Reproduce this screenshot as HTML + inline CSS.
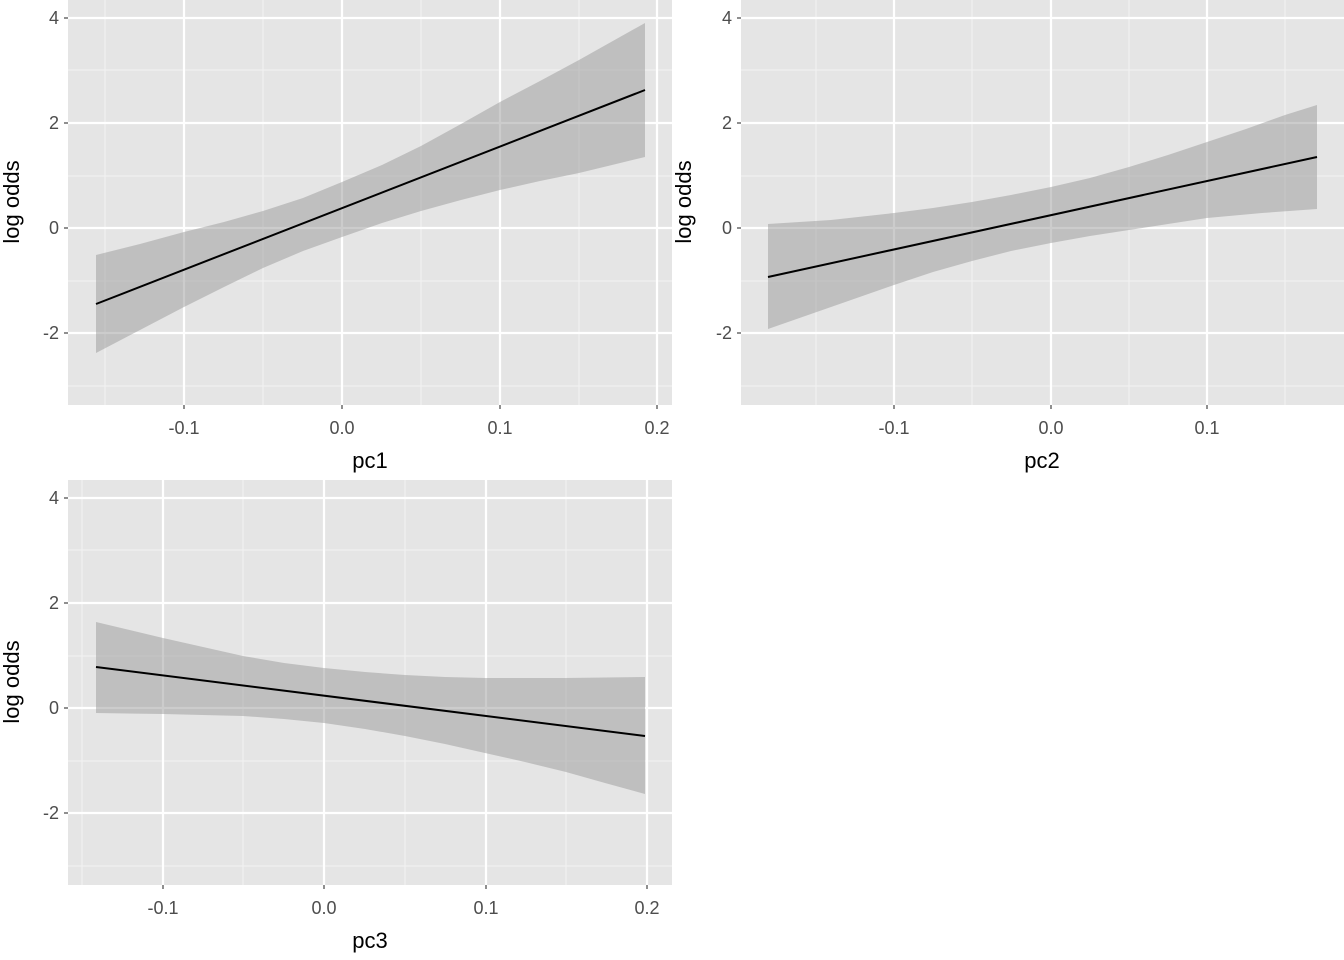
<!DOCTYPE html>
<html><head><meta charset="utf-8"><style>body{margin:0;background:#fff}svg{display:block}</style></head><body>
<svg width="1344" height="960" xmlns="http://www.w3.org/2000/svg" font-family="Liberation Sans, sans-serif">
<!-- Panel 1 -->
<rect x="68" y="0" width="604" height="405" fill="#e5e5e5"/>
<g stroke="#f2f2f2" stroke-width="1.1"><line x1="68" x2="672" y1="70" y2="70"/><line x1="68" x2="672" y1="176" y2="176"/><line x1="68" x2="672" y1="281" y2="281"/><line x1="68" x2="672" y1="386" y2="386"/>
<line x1="105" x2="105" y1="0" y2="405"/><line x1="263" x2="263" y1="0" y2="405"/><line x1="421" x2="421" y1="0" y2="405"/><line x1="579" x2="579" y1="0" y2="405"/></g>
<g stroke="#fff" stroke-width="2.2"><line x1="68" x2="672" y1="18" y2="18"/><line x1="68" x2="672" y1="123" y2="123"/><line x1="68" x2="672" y1="228" y2="228"/><line x1="68" x2="672" y1="333" y2="333"/>
<line x1="184" x2="184" y1="0" y2="405"/><line x1="342" x2="342" y1="0" y2="405"/><line x1="500" x2="500" y1="0" y2="405"/><line x1="657" x2="657" y1="0" y2="405"/></g>
<path d="M96,255 L140,244 L184,232 L224,222 L263,211 L303,198 L342,182 L382,165 L421,146 L461,124 L500,102 L540,81 L579,60 L645,23 L645,157 L612,165 L579,173 L540,181 L500,190 L461,200 L421,211 L382,223 L342,237 L303,251 L263,268 L224,287 L184,307 L140,330 L96,353 Z" fill="#999" fill-opacity="0.5"/>
<line x1="96" y1="304" x2="645" y2="90" stroke="#000" stroke-width="2"/>
<!-- Panel 2 -->
<rect x="741" y="0" width="603" height="405" fill="#e5e5e5"/>
<g stroke="#f2f2f2" stroke-width="1.1"><line x1="741" x2="1344" y1="70" y2="70"/><line x1="741" x2="1344" y1="176" y2="176"/><line x1="741" x2="1344" y1="281" y2="281"/><line x1="741" x2="1344" y1="386" y2="386"/>
<line x1="816" x2="816" y1="0" y2="405"/><line x1="972" x2="972" y1="0" y2="405"/><line x1="1129" x2="1129" y1="0" y2="405"/><line x1="1285" x2="1285" y1="0" y2="405"/></g>
<g stroke="#fff" stroke-width="2.2"><line x1="741" x2="1344" y1="18" y2="18"/><line x1="741" x2="1344" y1="123" y2="123"/><line x1="741" x2="1344" y1="228" y2="228"/><line x1="741" x2="1344" y1="333" y2="333"/>
<line x1="894" x2="894" y1="0" y2="405"/><line x1="1051" x2="1051" y1="0" y2="405"/><line x1="1207" x2="1207" y1="0" y2="405"/></g>
<path d="M768,224 L831,220 L894,213 L933,208 L972,202 L1011,195 L1051,187 L1090,178 L1129,167 L1168,155 L1207,142 L1246,129 L1285,115 L1317,105 L1317,209 L1262,213 L1207,218 L1168,224 L1129,230 L1090,236 L1051,243 L1011,251 L972,261 L933,272 L894,285 L831,307 L768,329 Z" fill="#999" fill-opacity="0.5"/>
<line x1="768" y1="277" x2="1317" y2="157" stroke="#000" stroke-width="2"/>
<!-- Panel 3 -->
<rect x="68" y="480" width="604" height="405" fill="#e5e5e5"/>
<g stroke="#f2f2f2" stroke-width="1.1"><line x1="68" x2="672" y1="550" y2="550"/><line x1="68" x2="672" y1="656" y2="656"/><line x1="68" x2="672" y1="761" y2="761"/><line x1="68" x2="672" y1="866" y2="866"/>
<line x1="82" x2="82" y1="480" y2="885"/><line x1="243" x2="243" y1="480" y2="885"/><line x1="405" x2="405" y1="480" y2="885"/><line x1="566" x2="566" y1="480" y2="885"/></g>
<g stroke="#fff" stroke-width="2.2"><line x1="68" x2="672" y1="498" y2="498"/><line x1="68" x2="672" y1="603" y2="603"/><line x1="68" x2="672" y1="708" y2="708"/><line x1="68" x2="672" y1="813" y2="813"/>
<line x1="163" x2="163" y1="480" y2="885"/><line x1="324" x2="324" y1="480" y2="885"/><line x1="486" x2="486" y1="480" y2="885"/><line x1="647" x2="647" y1="480" y2="885"/></g>
<path d="M96,622 L163,638 L203,647 L243,656 L284,663 L324,668 L365,672 L405,675 L445,677 L485,678 L565,678 L645,677 L645,794 L605,783 L566,772 L525,762 L485,753 L445,744 L405,736 L365,729 L324,723 L284,719 L243,716 L163,714 L96,713 Z" fill="#999" fill-opacity="0.5"/>
<line x1="96" y1="667" x2="645" y2="736" stroke="#000" stroke-width="2"/>
<!-- ticks -->
<g stroke="#333" stroke-width="1.1">
<line x1="64" x2="68" y1="18" y2="18"/><line x1="64" x2="68" y1="123" y2="123"/><line x1="64" x2="68" y1="228" y2="228"/><line x1="64" x2="68" y1="333" y2="333"/>
<line x1="737" x2="741" y1="18" y2="18"/><line x1="737" x2="741" y1="123" y2="123"/><line x1="737" x2="741" y1="228" y2="228"/><line x1="737" x2="741" y1="333" y2="333"/>
<line x1="64" x2="68" y1="498" y2="498"/><line x1="64" x2="68" y1="603" y2="603"/><line x1="64" x2="68" y1="708" y2="708"/><line x1="64" x2="68" y1="813" y2="813"/>
<line x1="184" x2="184" y1="405" y2="409"/><line x1="342" x2="342" y1="405" y2="409"/><line x1="500" x2="500" y1="405" y2="409"/><line x1="657" x2="657" y1="405" y2="409"/>
<line x1="894" x2="894" y1="405" y2="409"/><line x1="1051" x2="1051" y1="405" y2="409"/><line x1="1207" x2="1207" y1="405" y2="409"/>
<line x1="163" x2="163" y1="885" y2="889"/><line x1="324" x2="324" y1="885" y2="889"/><line x1="486" x2="486" y1="885" y2="889"/><line x1="647" x2="647" y1="885" y2="889"/>
</g>
<g font-size="18" fill="#4d4d4d" text-anchor="end">
<text x="59" y="24">4</text><text x="59" y="129">2</text><text x="59" y="234">0</text><text x="59" y="339">-2</text>
<text x="732" y="24">4</text><text x="732" y="129">2</text><text x="732" y="234">0</text><text x="732" y="339">-2</text>
<text x="59" y="504">4</text><text x="59" y="609">2</text><text x="59" y="714">0</text><text x="59" y="819">-2</text>
</g>
<g font-size="18" fill="#4d4d4d" text-anchor="middle">
<text x="184" y="434">-0.1</text><text x="342" y="434">0.0</text><text x="500" y="434">0.1</text><text x="657" y="434">0.2</text>
<text x="894" y="434">-0.1</text><text x="1051" y="434">0.0</text><text x="1207" y="434">0.1</text>
<text x="163" y="914">-0.1</text><text x="324" y="914">0.0</text><text x="486" y="914">0.1</text><text x="647" y="914">0.2</text>
</g>
<g font-size="22" fill="#000" text-anchor="middle">
<text x="370" y="468">pc1</text><text x="1042" y="468">pc2</text><text x="370" y="948">pc3</text>
<text transform="translate(19,202) rotate(-90)">log odds</text>
<text transform="translate(691,202) rotate(-90)">log odds</text>
<text transform="translate(19,682) rotate(-90)">log odds</text>
</g>
</svg>
</body></html>
